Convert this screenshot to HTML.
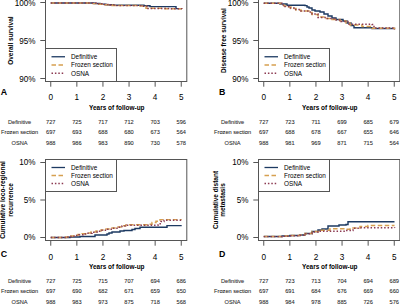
<!DOCTYPE html>
<html><head><meta charset="utf-8"><style>
html,body{margin:0;padding:0;background:#fff;}
svg{display:block;}
text{font-family:"Liberation Sans", sans-serif;}
</style></head><body>
<svg width="400" height="304" viewBox="0 0 400 304">
<g>
<rect width="400" height="304" fill="#fff"/>
<rect x="45.5" y="-1.5" width="141.3" height="83.0" fill="none" stroke="#555" stroke-width="1"/>
<line x1="40.3" y1="2.5" x2="45.5" y2="2.5" stroke="#555" stroke-width="1"/>
<text x="35.6" y="5.9" font-size="8.15" text-anchor="end" fill="#000">100%</text>
<line x1="40.3" y1="40.5" x2="45.5" y2="40.5" stroke="#555" stroke-width="1"/>
<text x="35.6" y="43.9" font-size="8.15" text-anchor="end" fill="#000">95%</text>
<line x1="40.3" y1="78.5" x2="45.5" y2="78.5" stroke="#555" stroke-width="1"/>
<text x="35.6" y="81.9" font-size="8.15" text-anchor="end" fill="#000">90%</text>
<line x1="50.75" y1="81.5" x2="50.75" y2="86.7" stroke="#555" stroke-width="1"/>
<text x="50.75" y="100.2" font-size="8.2" text-anchor="middle" fill="#000">0</text>
<line x1="76.85" y1="81.5" x2="76.85" y2="86.7" stroke="#555" stroke-width="1"/>
<text x="76.85" y="100.2" font-size="8.2" text-anchor="middle" fill="#000">1</text>
<line x1="102.95" y1="81.5" x2="102.95" y2="86.7" stroke="#555" stroke-width="1"/>
<text x="102.95" y="100.2" font-size="8.2" text-anchor="middle" fill="#000">2</text>
<line x1="129.05" y1="81.5" x2="129.05" y2="86.7" stroke="#555" stroke-width="1"/>
<text x="129.05" y="100.2" font-size="8.2" text-anchor="middle" fill="#000">3</text>
<line x1="155.15" y1="81.5" x2="155.15" y2="86.7" stroke="#555" stroke-width="1"/>
<text x="155.15" y="100.2" font-size="8.2" text-anchor="middle" fill="#000">4</text>
<line x1="181.25" y1="81.5" x2="181.25" y2="86.7" stroke="#555" stroke-width="1"/>
<text x="181.25" y="100.2" font-size="8.2" text-anchor="middle" fill="#000">5</text>
<text x="116.8" y="109.5" font-size="6.45" text-anchor="middle" font-weight="bold" fill="#000">Years of follow-up</text>
<text x="0.7" y="95.4" font-size="8.8" text-anchor="start" font-weight="bold" fill="#000">A</text>
<text x="13.3" y="40.6" font-size="6.5" text-anchor="middle" font-weight="bold" fill="#000" transform="rotate(-90 13.3 40.6)">Overall survival</text>
<path d="M50.75,3.00 L88.00,3.00 L88.00,3.00 L94.00,3.00 L94.00,3.50 L100.00,3.50 L100.00,4.10 L106.00,4.10 L106.00,4.70 L113.00,4.70 L113.00,5.30 L144.00,5.30 L144.00,5.70 L150.00,5.70 L150.00,6.60 L176.00,6.60 L176.00,8.60 L181.70,8.60 L181.70,8.60" fill="none" stroke="#1d3a62" stroke-width="1.45"/>
<path d="M50.75,3.00 L86.00,3.00 L86.00,3.00 L92.00,3.00 L92.00,3.60 L99.00,3.60 L99.00,4.20 L105.00,4.20 L105.00,4.80 L112.00,4.80 L112.00,5.40 L140.00,5.40 L140.00,6.00 L146.00,6.00 L146.00,8.30 L165.00,8.30 L165.00,8.70 L181.70,8.70 L181.70,9.00" fill="none" stroke="#d6a050" stroke-width="1.45" stroke-dasharray="4.5,2.5"/>
<path d="M50.75,3.00 L90.00,3.00 L90.00,3.00 L96.00,3.00 L96.00,3.70 L103.00,3.70 L103.00,4.40 L110.00,4.40 L110.00,5.00 L116.00,5.00 L116.00,5.60 L142.00,5.60 L142.00,6.20 L148.00,6.20 L148.00,8.40 L170.00,8.40 L170.00,8.80 L181.70,8.80 L181.70,9.10" fill="none" stroke="#8c3a52" stroke-width="1.45" stroke-dasharray="1.5,1.9"/>
<rect x="45.5" y="48.5" width="71.0" height="33.0" fill="#fff" stroke="#555" stroke-width="1"/>
<line x1="51.5" y1="56.75" x2="65" y2="56.75" stroke="#1d3a62" stroke-width="1.3"/>
<text x="71" y="59.05" font-size="6.4" text-anchor="start" fill="#000">Definitive</text>
<line x1="51.5" y1="65.0" x2="65" y2="65.0" stroke="#d6a050" stroke-width="1.3" stroke-dasharray="4.5,2.5"/>
<text x="71" y="67.3" font-size="6.4" text-anchor="start" fill="#000">Frozen section</text>
<line x1="51.5" y1="73.25" x2="65" y2="73.25" stroke="#8c3a52" stroke-width="1.3" stroke-dasharray="1.5,1.9"/>
<text x="71" y="75.55" font-size="6.4" text-anchor="start" fill="#000">OSNA</text>
<text x="19.6" y="124.3" font-size="5.65" text-anchor="middle" fill="#2a2a2a" stroke="#2a2a2a" stroke-width="0.08">Definitive</text>
<text x="50.75" y="124.3" font-size="5.65" text-anchor="middle" fill="#2a2a2a" stroke="#2a2a2a" stroke-width="0.08">727</text>
<text x="76.85" y="124.3" font-size="5.65" text-anchor="middle" fill="#2a2a2a" stroke="#2a2a2a" stroke-width="0.08">725</text>
<text x="102.95" y="124.3" font-size="5.65" text-anchor="middle" fill="#2a2a2a" stroke="#2a2a2a" stroke-width="0.08">717</text>
<text x="129.05" y="124.3" font-size="5.65" text-anchor="middle" fill="#2a2a2a" stroke="#2a2a2a" stroke-width="0.08">712</text>
<text x="155.15" y="124.3" font-size="5.65" text-anchor="middle" fill="#2a2a2a" stroke="#2a2a2a" stroke-width="0.08">703</text>
<text x="181.25" y="124.3" font-size="5.65" text-anchor="middle" fill="#2a2a2a" stroke="#2a2a2a" stroke-width="0.08">596</text>
<text x="19.6" y="134.4" font-size="5.65" text-anchor="middle" fill="#2a2a2a" stroke="#2a2a2a" stroke-width="0.08">Frozen section</text>
<text x="50.75" y="134.4" font-size="5.65" text-anchor="middle" fill="#2a2a2a" stroke="#2a2a2a" stroke-width="0.08">697</text>
<text x="76.85" y="134.4" font-size="5.65" text-anchor="middle" fill="#2a2a2a" stroke="#2a2a2a" stroke-width="0.08">693</text>
<text x="102.95" y="134.4" font-size="5.65" text-anchor="middle" fill="#2a2a2a" stroke="#2a2a2a" stroke-width="0.08">688</text>
<text x="129.05" y="134.4" font-size="5.65" text-anchor="middle" fill="#2a2a2a" stroke="#2a2a2a" stroke-width="0.08">680</text>
<text x="155.15" y="134.4" font-size="5.65" text-anchor="middle" fill="#2a2a2a" stroke="#2a2a2a" stroke-width="0.08">673</text>
<text x="181.25" y="134.4" font-size="5.65" text-anchor="middle" fill="#2a2a2a" stroke="#2a2a2a" stroke-width="0.08">564</text>
<text x="19.6" y="144.5" font-size="5.65" text-anchor="middle" fill="#2a2a2a" stroke="#2a2a2a" stroke-width="0.08">OSNA</text>
<text x="50.75" y="144.5" font-size="5.65" text-anchor="middle" fill="#2a2a2a" stroke="#2a2a2a" stroke-width="0.08">988</text>
<text x="76.85" y="144.5" font-size="5.65" text-anchor="middle" fill="#2a2a2a" stroke="#2a2a2a" stroke-width="0.08">986</text>
<text x="102.95" y="144.5" font-size="5.65" text-anchor="middle" fill="#2a2a2a" stroke="#2a2a2a" stroke-width="0.08">983</text>
<text x="129.05" y="144.5" font-size="5.65" text-anchor="middle" fill="#2a2a2a" stroke="#2a2a2a" stroke-width="0.08">890</text>
<text x="155.15" y="144.5" font-size="5.65" text-anchor="middle" fill="#2a2a2a" stroke="#2a2a2a" stroke-width="0.08">730</text>
<text x="181.25" y="144.5" font-size="5.65" text-anchor="middle" fill="#2a2a2a" stroke="#2a2a2a" stroke-width="0.08">578</text>
<rect x="258.5" y="-1.5" width="141.3" height="83.0" fill="none" stroke="#555" stroke-width="1"/>
<line x1="253.3" y1="2.5" x2="258.5" y2="2.5" stroke="#555" stroke-width="1"/>
<text x="248.6" y="5.9" font-size="8.15" text-anchor="end" fill="#000">100%</text>
<line x1="253.3" y1="40.5" x2="258.5" y2="40.5" stroke="#555" stroke-width="1"/>
<text x="248.6" y="43.9" font-size="8.15" text-anchor="end" fill="#000">95%</text>
<line x1="253.3" y1="78.5" x2="258.5" y2="78.5" stroke="#555" stroke-width="1"/>
<text x="248.6" y="81.9" font-size="8.15" text-anchor="end" fill="#000">90%</text>
<line x1="263.75" y1="81.5" x2="263.75" y2="86.7" stroke="#555" stroke-width="1"/>
<text x="263.75" y="100.2" font-size="8.2" text-anchor="middle" fill="#000">0</text>
<line x1="289.85" y1="81.5" x2="289.85" y2="86.7" stroke="#555" stroke-width="1"/>
<text x="289.85" y="100.2" font-size="8.2" text-anchor="middle" fill="#000">1</text>
<line x1="315.95" y1="81.5" x2="315.95" y2="86.7" stroke="#555" stroke-width="1"/>
<text x="315.95" y="100.2" font-size="8.2" text-anchor="middle" fill="#000">2</text>
<line x1="342.05" y1="81.5" x2="342.05" y2="86.7" stroke="#555" stroke-width="1"/>
<text x="342.05" y="100.2" font-size="8.2" text-anchor="middle" fill="#000">3</text>
<line x1="368.15" y1="81.5" x2="368.15" y2="86.7" stroke="#555" stroke-width="1"/>
<text x="368.15" y="100.2" font-size="8.2" text-anchor="middle" fill="#000">4</text>
<line x1="394.25" y1="81.5" x2="394.25" y2="86.7" stroke="#555" stroke-width="1"/>
<text x="394.25" y="100.2" font-size="8.2" text-anchor="middle" fill="#000">5</text>
<text x="329.8" y="109.5" font-size="6.45" text-anchor="middle" font-weight="bold" fill="#000">Years of follow-up</text>
<text x="218.9" y="95.4" font-size="8.8" text-anchor="start" font-weight="bold" fill="#000">B</text>
<text x="226.3" y="40.6" font-size="6.5" text-anchor="middle" font-weight="bold" fill="#000" transform="rotate(-90 226.3 40.6)">Disease free survival</text>
<path d="M263.75,3.30 L280.00,3.30 L280.00,4.00 L287.00,4.00 L287.00,5.20 L305.00,5.20 L305.00,5.60 L307.00,5.60 L307.00,7.00 L309.00,7.00 L309.00,8.00 L312.00,8.00 L312.00,10.00 L315.00,10.00 L315.00,11.00 L320.00,11.00 L320.00,12.00 L324.00,12.00 L324.00,14.00 L328.00,14.00 L328.00,16.00 L332.00,16.00 L332.00,18.00 L336.00,18.00 L336.00,19.50 L343.00,19.50 L343.00,21.00 L347.00,21.00 L347.00,23.00 L351.00,23.00 L351.00,25.50 L354.00,25.50 L354.00,27.80 L372.00,27.80 L372.00,28.50 L394.50,28.50 L394.50,28.70" fill="none" stroke="#1d3a62" stroke-width="1.45"/>
<path d="M263.75,3.30 L281.00,3.30 L281.00,5.00 L284.00,5.00 L284.00,6.00 L287.00,6.00 L287.00,7.00 L291.00,7.00 L291.00,8.50 L296.00,8.50 L296.00,10.00 L301.00,10.00 L301.00,11.00 L309.00,11.00 L309.00,12.50 L312.00,12.50 L312.00,14.50 L318.00,14.50 L318.00,17.00 L325.00,17.00 L325.00,18.50 L332.00,18.50 L332.00,19.50 L340.00,19.50 L340.00,21.00 L346.00,21.00 L346.00,23.00 L350.00,23.00 L350.00,25.00 L362.00,25.00 L362.00,26.50 L372.00,26.50 L372.00,28.20 L394.50,28.20 L394.50,29.20" fill="none" stroke="#d6a050" stroke-width="1.45" stroke-dasharray="4.5,2.5"/>
<path d="M263.75,3.30 L282.00,3.30 L282.00,5.00 L285.00,5.00 L285.00,6.50 L289.00,6.50 L289.00,8.00 L294.00,8.00 L294.00,9.50 L300.00,9.50 L300.00,11.00 L309.00,11.00 L309.00,12.00 L312.00,12.00 L312.00,14.00 L318.00,14.00 L318.00,17.50 L326.00,17.50 L326.00,18.50 L334.00,18.50 L334.00,20.00 L341.00,20.00 L341.00,21.50 L348.00,21.50 L348.00,24.20 L372.00,24.20 L372.00,24.50 L374.00,24.50 L374.00,28.00 L394.50,28.00 L394.50,29.50" fill="none" stroke="#8c3a52" stroke-width="1.45" stroke-dasharray="1.5,1.9"/>
<rect x="258.5" y="48.5" width="71.0" height="33.0" fill="#fff" stroke="#555" stroke-width="1"/>
<line x1="264.5" y1="56.75" x2="278" y2="56.75" stroke="#1d3a62" stroke-width="1.3"/>
<text x="284" y="59.05" font-size="6.4" text-anchor="start" fill="#000">Definitive</text>
<line x1="264.5" y1="65.0" x2="278" y2="65.0" stroke="#d6a050" stroke-width="1.3" stroke-dasharray="4.5,2.5"/>
<text x="284" y="67.3" font-size="6.4" text-anchor="start" fill="#000">Frozen section</text>
<line x1="264.5" y1="73.25" x2="278" y2="73.25" stroke="#8c3a52" stroke-width="1.3" stroke-dasharray="1.5,1.9"/>
<text x="284" y="75.55" font-size="6.4" text-anchor="start" fill="#000">OSNA</text>
<text x="232.6" y="124.3" font-size="5.65" text-anchor="middle" fill="#2a2a2a" stroke="#2a2a2a" stroke-width="0.08">Definitive</text>
<text x="263.75" y="124.3" font-size="5.65" text-anchor="middle" fill="#2a2a2a" stroke="#2a2a2a" stroke-width="0.08">727</text>
<text x="289.85" y="124.3" font-size="5.65" text-anchor="middle" fill="#2a2a2a" stroke="#2a2a2a" stroke-width="0.08">723</text>
<text x="315.95" y="124.3" font-size="5.65" text-anchor="middle" fill="#2a2a2a" stroke="#2a2a2a" stroke-width="0.08">711</text>
<text x="342.05" y="124.3" font-size="5.65" text-anchor="middle" fill="#2a2a2a" stroke="#2a2a2a" stroke-width="0.08">699</text>
<text x="368.15" y="124.3" font-size="5.65" text-anchor="middle" fill="#2a2a2a" stroke="#2a2a2a" stroke-width="0.08">685</text>
<text x="394.25" y="124.3" font-size="5.65" text-anchor="middle" fill="#2a2a2a" stroke="#2a2a2a" stroke-width="0.08">679</text>
<text x="232.6" y="134.4" font-size="5.65" text-anchor="middle" fill="#2a2a2a" stroke="#2a2a2a" stroke-width="0.08">Frozen section</text>
<text x="263.75" y="134.4" font-size="5.65" text-anchor="middle" fill="#2a2a2a" stroke="#2a2a2a" stroke-width="0.08">697</text>
<text x="289.85" y="134.4" font-size="5.65" text-anchor="middle" fill="#2a2a2a" stroke="#2a2a2a" stroke-width="0.08">688</text>
<text x="315.95" y="134.4" font-size="5.65" text-anchor="middle" fill="#2a2a2a" stroke="#2a2a2a" stroke-width="0.08">678</text>
<text x="342.05" y="134.4" font-size="5.65" text-anchor="middle" fill="#2a2a2a" stroke="#2a2a2a" stroke-width="0.08">667</text>
<text x="368.15" y="134.4" font-size="5.65" text-anchor="middle" fill="#2a2a2a" stroke="#2a2a2a" stroke-width="0.08">655</text>
<text x="394.25" y="134.4" font-size="5.65" text-anchor="middle" fill="#2a2a2a" stroke="#2a2a2a" stroke-width="0.08">646</text>
<text x="232.6" y="144.5" font-size="5.65" text-anchor="middle" fill="#2a2a2a" stroke="#2a2a2a" stroke-width="0.08">OSNA</text>
<text x="263.75" y="144.5" font-size="5.65" text-anchor="middle" fill="#2a2a2a" stroke="#2a2a2a" stroke-width="0.08">988</text>
<text x="289.85" y="144.5" font-size="5.65" text-anchor="middle" fill="#2a2a2a" stroke="#2a2a2a" stroke-width="0.08">981</text>
<text x="315.95" y="144.5" font-size="5.65" text-anchor="middle" fill="#2a2a2a" stroke="#2a2a2a" stroke-width="0.08">969</text>
<text x="342.05" y="144.5" font-size="5.65" text-anchor="middle" fill="#2a2a2a" stroke="#2a2a2a" stroke-width="0.08">871</text>
<text x="368.15" y="144.5" font-size="5.65" text-anchor="middle" fill="#2a2a2a" stroke="#2a2a2a" stroke-width="0.08">715</text>
<text x="394.25" y="144.5" font-size="5.65" text-anchor="middle" fill="#2a2a2a" stroke="#2a2a2a" stroke-width="0.08">564</text>
<rect x="45.5" y="159.5" width="141.3" height="81.0" fill="none" stroke="#555" stroke-width="1"/>
<line x1="40.3" y1="162.5" x2="45.5" y2="162.5" stroke="#555" stroke-width="1"/>
<text x="35.6" y="165.4" font-size="8.15" text-anchor="end" fill="#000">10%</text>
<line x1="40.3" y1="200.0" x2="45.5" y2="200.0" stroke="#555" stroke-width="1"/>
<text x="35.6" y="202.9" font-size="8.15" text-anchor="end" fill="#000">5%</text>
<line x1="40.3" y1="237.5" x2="45.5" y2="237.5" stroke="#555" stroke-width="1"/>
<text x="35.6" y="240.4" font-size="8.15" text-anchor="end" fill="#000">0%</text>
<line x1="50.75" y1="240.5" x2="50.75" y2="245.7" stroke="#555" stroke-width="1"/>
<text x="50.75" y="259.8" font-size="8.2" text-anchor="middle" fill="#000">0</text>
<line x1="76.85" y1="240.5" x2="76.85" y2="245.7" stroke="#555" stroke-width="1"/>
<text x="76.85" y="259.8" font-size="8.2" text-anchor="middle" fill="#000">1</text>
<line x1="102.95" y1="240.5" x2="102.95" y2="245.7" stroke="#555" stroke-width="1"/>
<text x="102.95" y="259.8" font-size="8.2" text-anchor="middle" fill="#000">2</text>
<line x1="129.05" y1="240.5" x2="129.05" y2="245.7" stroke="#555" stroke-width="1"/>
<text x="129.05" y="259.8" font-size="8.2" text-anchor="middle" fill="#000">3</text>
<line x1="155.15" y1="240.5" x2="155.15" y2="245.7" stroke="#555" stroke-width="1"/>
<text x="155.15" y="259.8" font-size="8.2" text-anchor="middle" fill="#000">4</text>
<line x1="181.25" y1="240.5" x2="181.25" y2="245.7" stroke="#555" stroke-width="1"/>
<text x="181.25" y="259.8" font-size="8.2" text-anchor="middle" fill="#000">5</text>
<text x="116.8" y="268.5" font-size="6.45" text-anchor="middle" font-weight="bold" fill="#000">Years of follow-up</text>
<text x="0.7" y="257.4" font-size="8.8" text-anchor="start" font-weight="bold" fill="#000">C</text>
<text x="4.9" y="200.0" font-size="6.5" text-anchor="middle" font-weight="bold" fill="#000" transform="rotate(-90 4.9 200.0)">Cumulative loco-regional</text>
<text x="13.3" y="200.0" font-size="6.5" text-anchor="middle" font-weight="bold" fill="#000" transform="rotate(-90 13.3 200.0)">recurrence</text>
<path d="M50.75,237.50 L70.00,237.50 L70.00,237.00 L80.00,237.00 L80.00,236.50 L95.00,236.50 L95.00,235.00 L107.00,235.00 L107.00,234.00 L109.00,234.00 L109.00,233.00 L112.00,233.00 L112.00,232.00 L120.00,232.00 L120.00,231.00 L124.00,231.00 L124.00,230.50 L132.00,230.50 L132.00,229.50 L135.00,229.50 L135.00,228.50 L140.00,228.50 L140.00,227.20 L167.00,227.20 L167.00,225.60 L181.70,225.60 L181.70,225.60" fill="none" stroke="#1d3a62" stroke-width="1.45"/>
<path d="M50.75,237.50 L66.00,237.50 L66.00,237.00 L70.00,237.00 L70.00,236.00 L74.00,236.00 L74.00,235.20 L78.00,235.20 L78.00,234.50 L82.00,234.50 L82.00,233.70 L86.00,233.70 L86.00,233.00 L91.00,233.00 L91.00,232.00 L96.00,232.00 L96.00,231.00 L101.00,231.00 L101.00,230.00 L106.00,230.00 L106.00,229.00 L111.00,229.00 L111.00,228.00 L116.00,228.00 L116.00,227.00 L121.00,227.00 L121.00,225.80 L126.00,225.80 L126.00,224.80 L148.00,224.80 L148.00,224.30 L152.00,224.30 L152.00,222.50 L156.00,222.50 L156.00,221.20 L160.00,221.20 L160.00,219.60 L181.70,219.60 L181.70,219.60" fill="none" stroke="#d6a050" stroke-width="1.45" stroke-dasharray="4.5,2.5"/>
<path d="M50.75,237.50 L67.00,237.50 L67.00,237.00 L71.00,237.00 L71.00,236.20 L75.00,236.20 L75.00,235.40 L79.00,235.40 L79.00,234.70 L83.00,234.70 L83.00,233.90 L87.00,233.90 L87.00,233.20 L92.00,233.20 L92.00,232.20 L97.00,232.20 L97.00,231.20 L102.00,231.20 L102.00,230.20 L107.00,230.20 L107.00,229.20 L112.00,229.20 L112.00,228.20 L117.00,228.20 L117.00,227.20 L122.00,227.20 L122.00,226.00 L127.00,226.00 L127.00,225.20 L158.00,225.20 L158.00,223.80 L161.00,223.80 L161.00,221.50 L164.00,221.50 L164.00,220.20 L181.70,220.20 L181.70,220.20" fill="none" stroke="#8c3a52" stroke-width="1.45" stroke-dasharray="1.5,1.9"/>
<rect x="45.5" y="159.5" width="71.0" height="32.0" fill="#fff" stroke="#555" stroke-width="1"/>
<line x1="51.5" y1="167.5" x2="65" y2="167.5" stroke="#1d3a62" stroke-width="1.3"/>
<text x="71" y="169.8" font-size="6.4" text-anchor="start" fill="#000">Definitive</text>
<line x1="51.5" y1="175.5" x2="65" y2="175.5" stroke="#d6a050" stroke-width="1.3" stroke-dasharray="4.5,2.5"/>
<text x="71" y="177.8" font-size="6.4" text-anchor="start" fill="#000">Frozen section</text>
<line x1="51.5" y1="183.5" x2="65" y2="183.5" stroke="#8c3a52" stroke-width="1.3" stroke-dasharray="1.5,1.9"/>
<text x="71" y="185.8" font-size="6.4" text-anchor="start" fill="#000">OSNA</text>
<text x="19.6" y="283.3" font-size="5.65" text-anchor="middle" fill="#2a2a2a" stroke="#2a2a2a" stroke-width="0.08">Definitive</text>
<text x="50.75" y="283.3" font-size="5.65" text-anchor="middle" fill="#2a2a2a" stroke="#2a2a2a" stroke-width="0.08">727</text>
<text x="76.85" y="283.3" font-size="5.65" text-anchor="middle" fill="#2a2a2a" stroke="#2a2a2a" stroke-width="0.08">725</text>
<text x="102.95" y="283.3" font-size="5.65" text-anchor="middle" fill="#2a2a2a" stroke="#2a2a2a" stroke-width="0.08">715</text>
<text x="129.05" y="283.3" font-size="5.65" text-anchor="middle" fill="#2a2a2a" stroke="#2a2a2a" stroke-width="0.08">707</text>
<text x="155.15" y="283.3" font-size="5.65" text-anchor="middle" fill="#2a2a2a" stroke="#2a2a2a" stroke-width="0.08">694</text>
<text x="181.25" y="283.3" font-size="5.65" text-anchor="middle" fill="#2a2a2a" stroke="#2a2a2a" stroke-width="0.08">686</text>
<text x="19.6" y="293.4" font-size="5.65" text-anchor="middle" fill="#2a2a2a" stroke="#2a2a2a" stroke-width="0.08">Frozen section</text>
<text x="50.75" y="293.4" font-size="5.65" text-anchor="middle" fill="#2a2a2a" stroke="#2a2a2a" stroke-width="0.08">697</text>
<text x="76.85" y="293.4" font-size="5.65" text-anchor="middle" fill="#2a2a2a" stroke="#2a2a2a" stroke-width="0.08">690</text>
<text x="102.95" y="293.4" font-size="5.65" text-anchor="middle" fill="#2a2a2a" stroke="#2a2a2a" stroke-width="0.08">682</text>
<text x="129.05" y="293.4" font-size="5.65" text-anchor="middle" fill="#2a2a2a" stroke="#2a2a2a" stroke-width="0.08">671</text>
<text x="155.15" y="293.4" font-size="5.65" text-anchor="middle" fill="#2a2a2a" stroke="#2a2a2a" stroke-width="0.08">659</text>
<text x="181.25" y="293.4" font-size="5.65" text-anchor="middle" fill="#2a2a2a" stroke="#2a2a2a" stroke-width="0.08">650</text>
<text x="19.6" y="303.5" font-size="5.65" text-anchor="middle" fill="#2a2a2a" stroke="#2a2a2a" stroke-width="0.08">OSNA</text>
<text x="50.75" y="303.5" font-size="5.65" text-anchor="middle" fill="#2a2a2a" stroke="#2a2a2a" stroke-width="0.08">988</text>
<text x="76.85" y="303.5" font-size="5.65" text-anchor="middle" fill="#2a2a2a" stroke="#2a2a2a" stroke-width="0.08">983</text>
<text x="102.95" y="303.5" font-size="5.65" text-anchor="middle" fill="#2a2a2a" stroke="#2a2a2a" stroke-width="0.08">973</text>
<text x="129.05" y="303.5" font-size="5.65" text-anchor="middle" fill="#2a2a2a" stroke="#2a2a2a" stroke-width="0.08">875</text>
<text x="155.15" y="303.5" font-size="5.65" text-anchor="middle" fill="#2a2a2a" stroke="#2a2a2a" stroke-width="0.08">718</text>
<text x="181.25" y="303.5" font-size="5.65" text-anchor="middle" fill="#2a2a2a" stroke="#2a2a2a" stroke-width="0.08">568</text>
<rect x="258.5" y="159.5" width="141.3" height="81.0" fill="none" stroke="#555" stroke-width="1"/>
<line x1="253.3" y1="162.5" x2="258.5" y2="162.5" stroke="#555" stroke-width="1"/>
<text x="248.6" y="165.4" font-size="8.15" text-anchor="end" fill="#000">10%</text>
<line x1="253.3" y1="200.0" x2="258.5" y2="200.0" stroke="#555" stroke-width="1"/>
<text x="248.6" y="202.9" font-size="8.15" text-anchor="end" fill="#000">5%</text>
<line x1="253.3" y1="237.5" x2="258.5" y2="237.5" stroke="#555" stroke-width="1"/>
<text x="248.6" y="240.4" font-size="8.15" text-anchor="end" fill="#000">0%</text>
<line x1="263.75" y1="240.5" x2="263.75" y2="245.7" stroke="#555" stroke-width="1"/>
<text x="263.75" y="259.8" font-size="8.2" text-anchor="middle" fill="#000">0</text>
<line x1="289.85" y1="240.5" x2="289.85" y2="245.7" stroke="#555" stroke-width="1"/>
<text x="289.85" y="259.8" font-size="8.2" text-anchor="middle" fill="#000">1</text>
<line x1="315.95" y1="240.5" x2="315.95" y2="245.7" stroke="#555" stroke-width="1"/>
<text x="315.95" y="259.8" font-size="8.2" text-anchor="middle" fill="#000">2</text>
<line x1="342.05" y1="240.5" x2="342.05" y2="245.7" stroke="#555" stroke-width="1"/>
<text x="342.05" y="259.8" font-size="8.2" text-anchor="middle" fill="#000">3</text>
<line x1="368.15" y1="240.5" x2="368.15" y2="245.7" stroke="#555" stroke-width="1"/>
<text x="368.15" y="259.8" font-size="8.2" text-anchor="middle" fill="#000">4</text>
<line x1="394.25" y1="240.5" x2="394.25" y2="245.7" stroke="#555" stroke-width="1"/>
<text x="394.25" y="259.8" font-size="8.2" text-anchor="middle" fill="#000">5</text>
<text x="329.8" y="268.5" font-size="6.45" text-anchor="middle" font-weight="bold" fill="#000">Years of follow-up</text>
<text x="218.9" y="257.4" font-size="8.8" text-anchor="start" font-weight="bold" fill="#000">D</text>
<text x="217.5" y="200.0" font-size="6.5" text-anchor="middle" font-weight="bold" fill="#000" transform="rotate(-90 217.5 200.0)">Cumulative distant</text>
<text x="225.3" y="200.0" font-size="6.5" text-anchor="middle" font-weight="bold" fill="#000" transform="rotate(-90 225.3 200.0)">metastasis</text>
<path d="M263.75,236.50 L282.00,236.50 L282.00,236.00 L290.00,236.00 L290.00,235.50 L300.00,235.50 L300.00,235.00 L305.00,235.00 L305.00,233.50 L312.00,233.50 L312.00,231.50 L318.00,231.50 L318.00,230.00 L322.00,230.00 L322.00,229.00 L328.00,229.00 L328.00,226.00 L339.00,226.00 L339.00,225.00 L346.00,225.00 L346.00,224.50 L348.00,224.50 L348.00,221.80 L394.50,221.80 L394.50,221.80" fill="none" stroke="#1d3a62" stroke-width="1.45"/>
<path d="M263.75,236.50 L282.00,236.50 L282.00,236.00 L290.00,236.00 L290.00,235.50 L300.00,235.50 L300.00,235.00 L305.00,235.00 L305.00,233.50 L312.00,233.50 L312.00,231.50 L320.00,231.50 L320.00,230.20 L330.00,230.20 L330.00,228.80 L345.00,228.80 L345.00,229.30 L350.00,229.30 L350.00,228.00 L360.00,228.00 L360.00,226.50 L368.00,226.50 L368.00,225.50 L394.50,225.50 L394.50,225.50" fill="none" stroke="#d6a050" stroke-width="1.45" stroke-dasharray="4.5,2.5"/>
<path d="M263.75,236.60 L282.00,236.60 L282.00,236.20 L290.00,236.20 L290.00,235.70 L300.00,235.70 L300.00,235.20 L305.00,235.20 L305.00,233.80 L312.00,233.80 L312.00,232.00 L318.00,232.00 L318.00,231.20 L345.00,231.20 L345.00,230.50 L353.00,230.50 L353.00,228.20 L360.00,228.20 L360.00,227.80 L394.50,227.80 L394.50,228.00" fill="none" stroke="#8c3a52" stroke-width="1.45" stroke-dasharray="1.5,1.9"/>
<rect x="258.5" y="159.5" width="71.0" height="32.0" fill="#fff" stroke="#555" stroke-width="1"/>
<line x1="264.5" y1="167.5" x2="278" y2="167.5" stroke="#1d3a62" stroke-width="1.3"/>
<text x="284" y="169.8" font-size="6.4" text-anchor="start" fill="#000">Definitive</text>
<line x1="264.5" y1="175.5" x2="278" y2="175.5" stroke="#d6a050" stroke-width="1.3" stroke-dasharray="4.5,2.5"/>
<text x="284" y="177.8" font-size="6.4" text-anchor="start" fill="#000">Frozen section</text>
<line x1="264.5" y1="183.5" x2="278" y2="183.5" stroke="#8c3a52" stroke-width="1.3" stroke-dasharray="1.5,1.9"/>
<text x="284" y="185.8" font-size="6.4" text-anchor="start" fill="#000">OSNA</text>
<text x="232.6" y="283.3" font-size="5.65" text-anchor="middle" fill="#2a2a2a" stroke="#2a2a2a" stroke-width="0.08">Definitive</text>
<text x="263.75" y="283.3" font-size="5.65" text-anchor="middle" fill="#2a2a2a" stroke="#2a2a2a" stroke-width="0.08">727</text>
<text x="289.85" y="283.3" font-size="5.65" text-anchor="middle" fill="#2a2a2a" stroke="#2a2a2a" stroke-width="0.08">723</text>
<text x="315.95" y="283.3" font-size="5.65" text-anchor="middle" fill="#2a2a2a" stroke="#2a2a2a" stroke-width="0.08">713</text>
<text x="342.05" y="283.3" font-size="5.65" text-anchor="middle" fill="#2a2a2a" stroke="#2a2a2a" stroke-width="0.08">704</text>
<text x="368.15" y="283.3" font-size="5.65" text-anchor="middle" fill="#2a2a2a" stroke="#2a2a2a" stroke-width="0.08">694</text>
<text x="394.25" y="283.3" font-size="5.65" text-anchor="middle" fill="#2a2a2a" stroke="#2a2a2a" stroke-width="0.08">689</text>
<text x="232.6" y="293.4" font-size="5.65" text-anchor="middle" fill="#2a2a2a" stroke="#2a2a2a" stroke-width="0.08">Frozen section</text>
<text x="263.75" y="293.4" font-size="5.65" text-anchor="middle" fill="#2a2a2a" stroke="#2a2a2a" stroke-width="0.08">697</text>
<text x="289.85" y="293.4" font-size="5.65" text-anchor="middle" fill="#2a2a2a" stroke="#2a2a2a" stroke-width="0.08">691</text>
<text x="315.95" y="293.4" font-size="5.65" text-anchor="middle" fill="#2a2a2a" stroke="#2a2a2a" stroke-width="0.08">684</text>
<text x="342.05" y="293.4" font-size="5.65" text-anchor="middle" fill="#2a2a2a" stroke="#2a2a2a" stroke-width="0.08">676</text>
<text x="368.15" y="293.4" font-size="5.65" text-anchor="middle" fill="#2a2a2a" stroke="#2a2a2a" stroke-width="0.08">669</text>
<text x="394.25" y="293.4" font-size="5.65" text-anchor="middle" fill="#2a2a2a" stroke="#2a2a2a" stroke-width="0.08">660</text>
<text x="232.6" y="303.5" font-size="5.65" text-anchor="middle" fill="#2a2a2a" stroke="#2a2a2a" stroke-width="0.08">OSNA</text>
<text x="263.75" y="303.5" font-size="5.65" text-anchor="middle" fill="#2a2a2a" stroke="#2a2a2a" stroke-width="0.08">988</text>
<text x="289.85" y="303.5" font-size="5.65" text-anchor="middle" fill="#2a2a2a" stroke="#2a2a2a" stroke-width="0.08">984</text>
<text x="315.95" y="303.5" font-size="5.65" text-anchor="middle" fill="#2a2a2a" stroke="#2a2a2a" stroke-width="0.08">978</text>
<text x="342.05" y="303.5" font-size="5.65" text-anchor="middle" fill="#2a2a2a" stroke="#2a2a2a" stroke-width="0.08">885</text>
<text x="368.15" y="303.5" font-size="5.65" text-anchor="middle" fill="#2a2a2a" stroke="#2a2a2a" stroke-width="0.08">726</text>
<text x="394.25" y="303.5" font-size="5.65" text-anchor="middle" fill="#2a2a2a" stroke="#2a2a2a" stroke-width="0.08">576</text>
</g>
</svg>
</body></html>
